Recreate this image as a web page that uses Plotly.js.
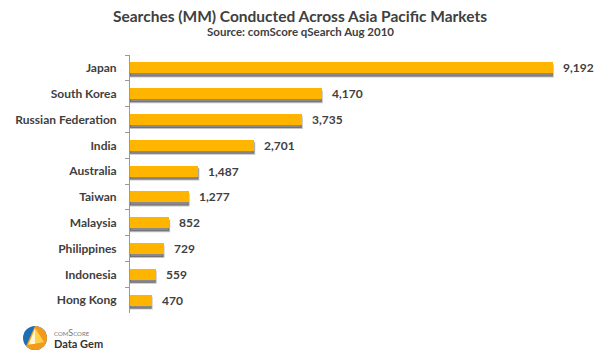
<!DOCTYPE html>
<html><head><meta charset="utf-8">
<script src="https://cdn.plot.ly/plotly-3.0.1.min.js"></script>
<style>html,body{margin:0;padding:0;background:#fff}#c{width:599px;height:361px}</style>
</head><body><div id="c"></div>
<script>
const countries = ["Japan","South Korea","Russian Federation","India","Australia","Taiwan","Malaysia","Philippines","Indonesia","Hong Kong"];
const searches = [9192,4170,3735,2701,1487,1277,852,729,559,470];
const titleText = "Searches (MM) Conducted Across Asia Pacific Markets";
const subtitleText = "Source: comScore qSearch Aug 2010";

const W = 0.42;
const shadow = {
  type:'bar', orientation:'h', y:countries, x:searches,
  width:W, offset:-W/2+0.12,
  marker:{color:'rgba(60,60,60,0.6)', line:{color:'rgba(60,60,60,0.3)', width:2}},
  hoverinfo:'skip', showlegend:false
};
const bars = {
  type:'bar', orientation:'h', y:countries, x:searches,
  width:W, offset:-W/2,
  marker:{color:'#FFB400', line:{width:0}},
  showlegend:false
};
const fmt = v => v.toLocaleString('en-US');
const valueLabels = countries.map((c,i) => ({
  x:searches[i], y:c, xref:'x', yref:'y', text:fmt(searches[i]), showarrow:false,
  xanchor:'left', yanchor:'middle', xshift:8, yshift:0,
  font:{family:'Lato, sans-serif', size:12, color:'#404040', weight:'bold'}
}));
const logo = 'data:image/svg+xml;utf8,' + encodeURIComponent(
 '<svg xmlns="http://www.w3.org/2000/svg" viewBox="0 0 26 26">'+
 '<circle cx="13" cy="13" r="12" fill="#1f6db3"/>'+
 '<path d="M13 1 A12 12 0 0 1 13 25 A12 12 0 0 1 4 21 Z" fill="#f39a1e"/>'+
 '<path d="M13 3 L22 17 L6 20 Z" fill="#ffd24a"/>'+
 '<path d="M13 4 L13 19 L7 19 Z" fill="#fff7d8"/>'+
 '</svg>');
const px = x => (x-130)/460, py = y => (313-y)/258;
const layout = {
  width:599, height:361,
  margin:{l:130, r:9, t:55, b:48},
  paper_bgcolor:'#fff', plot_bgcolor:'#fff',
  barmode:'overlay', bargap:0,
  xaxis:{range:[0,10000], visible:false, fixedrange:true},
  yaxis:{type:'category', autorange:'reversed', showline:true, linecolor:'#999', linewidth:1,
         ticks:'outside', ticklen:4, tickcolor:'#999', tickson:'boundaries', showgrid:false,
         ticklabelstandoff:10,
         tickfont:{family:'Lato, sans-serif', size:12, color:'#404040', weight:'bold'}},
  annotations:[
    {text:titleText, xref:'paper', yref:'paper', x:px(300), y:py(16), showarrow:false,
     xanchor:'center', yanchor:'middle', font:{family:'Lato, sans-serif', size:15.5, color:'#404040', weight:'bold'}},
    {text:subtitleText, xref:'paper', yref:'paper', x:px(300), y:py(31), showarrow:false,
     xanchor:'center', yanchor:'middle', font:{family:'Lato, sans-serif', size:11.5, color:'#404040', weight:'bold'}},
    {text:'comScore', xref:'paper', yref:'paper', x:px(52), y:py(332), showarrow:false,
     xanchor:'left', yanchor:'middle', font:{family:'Lato, sans-serif', size:9, color:'#777', variant:'small-caps'}},
    {text:'Data Gem', xref:'paper', yref:'paper', x:px(52), y:py(343), showarrow:false,
     xanchor:'left', yanchor:'middle', font:{family:'Lato, sans-serif', size:11, color:'#333', weight:'bold'}}
  ].concat(valueLabels),
  images:[{source:logo, xref:'paper', yref:'paper', x:px(22), y:py(325), sizex:26/460, sizey:26/258,
           xanchor:'left', yanchor:'top', sizing:'stretch', layer:'above'}]
};
Plotly.newPlot('c',[shadow,bars],layout,{displayModeBar:false, staticPlot:true});
</script></body></html>
